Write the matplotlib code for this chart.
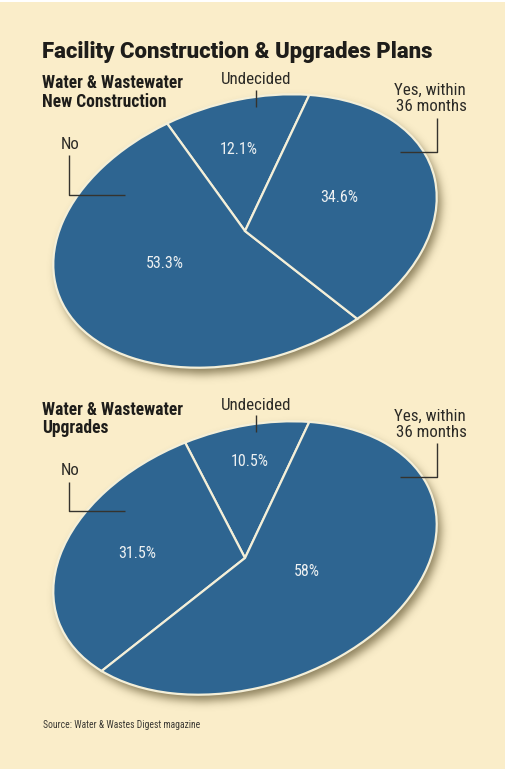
import numpy as np
import matplotlib
matplotlib.use("Agg")
import matplotlib.pyplot as plt
from matplotlib.transforms import Affine2D

# ---------------- data ----------------
categories = ["Undecided", "No", "Yes, within 36 months"]
new_construction = [12.1, 53.3, 34.6]
upgrades = [10.5, 31.5, 58.0]
new_construction_labels = ["12.1%", "53.3%", "34.6%"]
upgrades_labels = ["10.5%", "31.5%", "58%"]
title = "Facility Construction & Upgrades Plans"
subtitle_1 = ["Water & Wastewater", "New Construction"]
subtitle_2 = ["Water & Wastewater", "Upgrades"]
source = "Source: Water & Wastes Digest magazine"

# ---------------- style ----------------
W, H = 507, 769
BG = "#FAEDC9"
BLUE = "#2E6591"
EDGE = "#F4EFD8"
DARK = "#2B2A26"
A, B, TILT = 197.0, 129.0, 17.7      # ellipse semi axes (px) and tilt (deg)
START = 58.6
NARROW = ["Liberation Sans Narrow", "Roboto Condensed", "DejaVu Sans"]
TITLEF = ["Roboto", "Liberation Sans", "DejaVu Sans"]

def Y(y):
    return H - y

fig = plt.figure(figsize=(W / 100, H / 100), dpi=100, facecolor="white")
ax = fig.add_axes([0, 0, 1, 1])

# background panel (thin white strip at top and right)
ax.add_patch(plt.Rectangle((0, 0), W - 2, H - 2, facecolor=BG, edgecolor="none", zorder=0))

# ---------------- shadow helper ----------------
def shadow(cx, cy, dx=4, dy=6, sigma=4.5):
    xs = np.arange(W) + 0.5
    ys = np.arange(H) + 0.5
    X, Yg = np.meshgrid(xs, ys)  # Yg is pixel row from top
    t = np.deg2rad(TILT)
    px = X - (cx + dx)
    py = -(Yg - (cy + dy))
    u = px * np.cos(t) + py * np.sin(t)
    v = -px * np.sin(t) + py * np.cos(t)
    mask = ((u / A) ** 2 + (v / B) ** 2 <= 1.0).astype(float)
    k = np.arange(-15, 16)
    g = np.exp(-k ** 2 / (2 * sigma ** 2)); g /= g.sum()
    mask = np.apply_along_axis(lambda r: np.convolve(r, g, mode="same"), 1, mask)
    mask = np.apply_along_axis(lambda c: np.convolve(c, g, mode="same"), 0, mask)
    img = np.zeros((H, W, 4))
    img[..., 0] = 90 / 255; img[..., 1] = 78 / 255; img[..., 2] = 42 / 255
    img[..., 3] = mask * 0.68
    ax.imshow(img, extent=(0, W, 0, H), origin="upper", zorder=1, interpolation="bilinear")

def draw_pie(values, cx, cy):
    shadow(cx, cy)
    wedges, _ = ax.pie(values, startangle=START, counterclock=True,
                       colors=[BLUE] * len(values),
                       wedgeprops=dict(edgecolor=EDGE, linewidth=1.6))
    tr = Affine2D().scale(A, B).rotate_deg(TILT).translate(cx, Y(cy)) + ax.transData
    for w in wedges:
        w.set_transform(tr)
        w.set_zorder(2)

draw_pie(new_construction, 245, 231)
draw_pie(upgrades, 245, 558)

ax.set_xlim(0, W)
ax.set_ylim(0, H)
ax.set_aspect("auto")
ax.axis("off")

fits = []  # (group, text)

def txt(x, y, s, group, **kw):
    t = ax.text(x, Y(y), s, zorder=5, **kw)
    fits.append((group, t))
    return t

# title & subtitles
txt(42, 58, title, "title", ha="left", va="baseline", family=TITLEF, weight="black",
    color="#1E1D1A", fontsize=14)
txt(42, 88, subtitle_1[0], "sub", ha="left", va="baseline", family=NARROW, weight="bold", color="#1E1D1A", fontsize=11)
txt(42, 107, subtitle_1[1], "sub", ha="left", va="baseline", family=NARROW, weight="bold", color="#1E1D1A", fontsize=11)
txt(42, 415, subtitle_2[0], "sub", ha="left", va="baseline", family=NARROW, weight="bold", color="#1E1D1A", fontsize=11)
txt(42, 433, subtitle_2[1], "sub", ha="left", va="baseline", family=NARROW, weight="bold", color="#1E1D1A", fontsize=11)

# category labels with leader lines
def cat_labels(dy):
    txt(256, 84 + dy, categories[0], "lab", ha="center", va="baseline", family=NARROW, color=DARK, fontsize=10)
    txt(430, 95 + dy, "Yes, within", "lab", ha="center", va="baseline", family=NARROW, color=DARK, fontsize=10)
    txt(431, 111 + dy, "36 months", "lab", ha="center", va="baseline", family=NARROW, color=DARK, fontsize=10)
    txt(70, 149 + dy, categories[1], "lab", ha="center", va="baseline", family=NARROW, color=DARK, fontsize=10)

cat_labels(0)
cat_labels(326)

def leaders(pts_list):
    for pts in pts_list:
        xs = [p[0] for p in pts]; ys = [Y(p[1]) for p in pts]
        ax.plot(xs, ys, color="#35332E", lw=1.0, zorder=4, solid_capstyle="butt")

leaders([[(256, 90), (256, 107)],
         [(437, 118), (437, 152), (400, 152)],
         [(69, 155), (69, 195), (125, 195)]])
leaders([[(256, 415), (256, 432)],
         [(437, 443), (437, 477), (400, 477)],
         [(69, 482), (69, 511), (125, 511)]])

# percentage labels
pct_pos_1 = [(239, 150), (165, 263), (339, 197)]
pct_pos_2 = [(250, 462), (137, 554), (307, 572)]
for (x, y), s in zip(pct_pos_1, new_construction_labels):
    txt(x, y, s, "pct", ha="center", va="center", family=NARROW, color="#EEF1F2", fontsize=10)
for (x, y), s in zip(pct_pos_2, upgrades_labels):
    txt(x, y, s, "pct", ha="center", va="center", family=NARROW, color="#EEF1F2", fontsize=10)

txt(43, 728, source, "src", ha="left", va="baseline", family=NARROW, color="#3A3833", fontsize=8)

# fit font sizes to target widths
targets = {"title": (title, 392), "sub": ("Water & Wastewater", 141),
           "lab": ("Undecided", 70), "pct": ("34.6%", 38), "src": (source, 157)}
fig.canvas.draw()
r = fig.canvas.get_renderer()
scale = {}
for g, t in fits:
    s, wpx = targets[g]
    if t.get_text() == s and g not in scale:
        bb = t.get_window_extent(r)
        scale[g] = t.get_fontsize() * wpx / bb.width
for g, t in fits:
    t.set_fontsize(scale[g])

fig.savefig("out.png", dpi=100, facecolor="white")
